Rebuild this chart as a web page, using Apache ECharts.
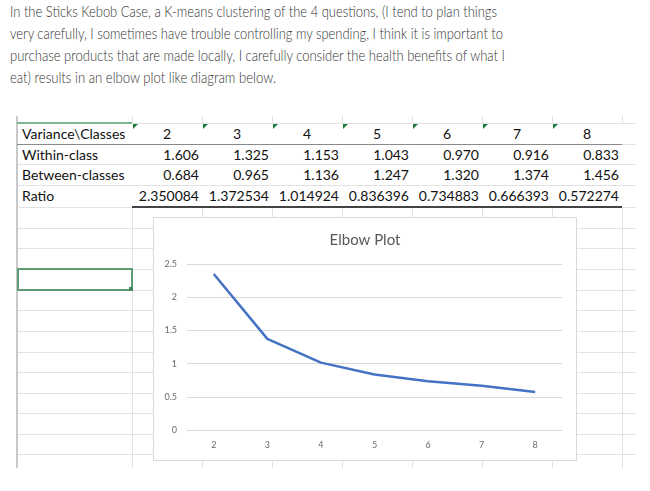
<!DOCTYPE html>
<html><head><meta charset="utf-8">
<script src="https://cdn.jsdelivr.net/npm/echarts@6/dist/echarts.min.js"></script>
<style>
html,body{margin:0;padding:0;background:#fff;width:650px;height:491px;overflow:hidden;position:relative;}
#intro{position:absolute;left:10px;top:0px;font-family:Lato,sans-serif;font-weight:300;font-size:16px;line-height:22px;color:#333;}
.ln{white-space:nowrap;transform-origin:0 0;display:block;width:max-content;}
.hl{position:absolute;height:1px;background:#e2e2e2;}
.vl{position:absolute;width:1px;background:#e2e2e2;}
.cell{position:absolute;font-family:Lato,sans-serif;font-size:14px;color:#111;height:20px;line-height:20px;white-space:nowrap;}
.tri{position:absolute;width:0;height:0;border-top:5px solid #1f7a3a;border-right:5px solid transparent;}
#chart{position:absolute;left:153px;top:217px;width:422px;height:242px;border:1px solid #d9d9d9;background:#fff;}
</style>
</head>
<body>
<div id="intro"></div>
<div id="sheet"></div>
<div id="chart"></div>
<script>
// ---- text ----
const introLines = [
  "In the Sticks Kebob Case, a K-means clustering of the 4 questions, (I tend to plan things",
  "very carefully, I sometimes have trouble controlling my spending, I think it is important to",
  "purchase products that are made locally, I carefully consider the health benefits of what I",
  "eat) results in an elbow plot like diagram below."
];
// ---- data ----
const classes = ['2', '3', '4', '5', '6', '7', '8'];
const withinClass = [1.606, 1.325, 1.153, 1.043, 0.970, 0.916, 0.833];
const betweenClasses = [0.684, 0.965, 1.136, 1.247, 1.320, 1.374, 1.456];
const ratio = [2.350084, 1.372534, 1.014924, 0.836396, 0.734883, 0.666393, 0.572274];
const rowLabels = ['Variance\\Classes', 'Within-class', 'Between-classes', 'Ratio'];
const chartTitle = 'Elbow Plot';

// ---- paragraph ----
const introTargets = [487, 493, 495, 266];
const intro = document.getElementById('intro');
introLines.forEach((t, i) => {
  const s = document.createElement('span');
  s.className = 'ln'; s.textContent = t; intro.appendChild(s);
  const w = s.getBoundingClientRect().width;
  s.style.transform = 'scaleX(' + (introTargets[i] / w) + ')';
});

// ---- spreadsheet background ----
const sheet = document.getElementById('sheet');
function add(cls, css, txt) {
  const d = document.createElement('div'); d.className = cls;
  Object.assign(d.style, css); if (txt !== undefined) d.textContent = txt;
  sheet.appendChild(d); return d;
}
const colX = [17, 132, 202, 272, 342, 412, 482, 552, 622];
const rowY = [123, 144, 164, 185, 207, 228, 248, 269, 290, 310, 331, 352, 372, 393, 413, 434, 454];
const sheetBottom = 468, sheetRight = 636;
rowY.forEach((y) => {
  add('hl', {left: '17px', top: y + 'px', width: (sheetRight - 17) + 'px'});
});
colX.forEach((x, i) => {
  if (i === 0) return;
  add('vl', {left: x + 'px', top: '116px', height: '7px'});
  add('vl', {left: x + 'px', top: '207px', height: (sheetBottom - 207) + 'px'});
});
add('vl', {left: '16px', top: '116px', height: (sheetBottom - 116) + 'px', width: '2px', background: '#c8c8c8'});
add('hl', {left: '17px', top: '144px', width: (622 - 17) + 'px', background: '#8a8a8a'});
add('hl', {left: '132px', top: '206px', width: (622 - 132) + 'px', height: '2px', background: '#444'});
add('hl', {left: '17px', top: '122px', width: '115px', height: '2px', background: '#7cb892'});
for (let c = 1; c < colX.length - 1; c++) add('tri', {left: (colX[c] + 1) + 'px', top: '124px'});
const rowTops = [124, 145, 165, 186];
rowLabels.forEach((lab, r) => add('cell', {left: '22px', top: rowTops[r] + 'px'}, lab));
classes.forEach((c, i) => {
  const l = colX[i + 1], w = 70;
  add('cell', {left: l + 'px', top: rowTops[0] + 'px', width: w + 'px', textAlign: 'center'}, c);
  add('cell', {left: l + 'px', top: rowTops[1] + 'px', width: (w - 3) + 'px', textAlign: 'right'}, withinClass[i].toFixed(3));
  add('cell', {left: l + 'px', top: rowTops[2] + 'px', width: (w - 3) + 'px', textAlign: 'right'}, betweenClasses[i].toFixed(3));
  add('cell', {left: (l - 10) + 'px', top: rowTops[3] + 'px', width: (w + 7) + 'px', textAlign: 'right'}, ratio[i].toFixed(6));
});
add('sel', {position: 'absolute', left: '17px', top: '268px', width: '112px', height: '19px', border: '2px solid #5c9e72'});
add('sel', {position: 'absolute', left: '129px', top: '287px', width: '4px', height: '4px', background: '#3f8a58'});

// ---- chart ----
const chart = echarts.init(document.getElementById('chart'), null, {renderer: 'canvas'});
chart.setOption({
  animation: false,
  backgroundColor: '#fff',
  title: {text: chartTitle, left: 'center', top: 10,
    textStyle: {fontFamily: 'Lato', fontSize: 15, fontWeight: 'normal', color: '#595959'}},
  grid: {left: 33, right: 14, top: 46, bottom: 30},
  xAxis: {type: 'category', data: classes, boundaryGap: true,
    axisLine: {lineStyle: {color: '#d9d9d9'}}, axisTick: {show: false},
    axisLabel: {color: '#6b6b6b', fontSize: 9, margin: 11, fontFamily: 'Lato'}},
  yAxis: {type: 'value', min: 0, max: 2.5, interval: 0.5,
    axisLine: {show: false}, axisTick: {show: false},
    axisLabel: {color: '#6b6b6b', fontSize: 9, margin: 10, fontFamily: 'Lato'},
    splitLine: {lineStyle: {color: '#d9d9d9'}}},
  series: [{type: 'line', data: ratio, symbol: 'none', smooth: false,
    lineStyle: {color: '#4472c4', width: 2.5}, itemStyle: {color: '#4472c4'}}]
});
</script>
</body></html>
